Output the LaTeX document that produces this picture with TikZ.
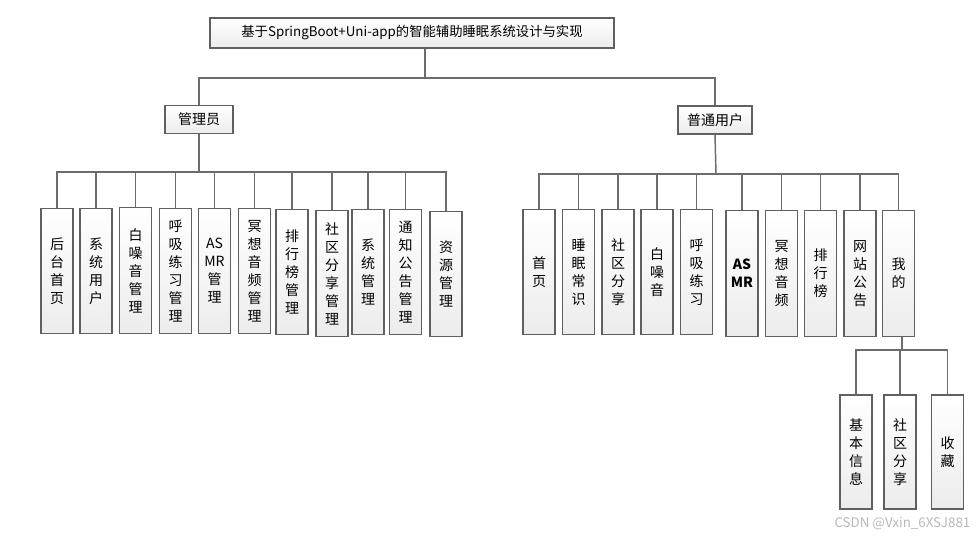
\documentclass[tikz,border=0pt]{standalone}
\usepackage{fontspec}
\setmainfont{Noto Sans CJK SC}
\begin{document}
\begin{tikzpicture}[x=0.75pt,y=-0.75pt,
  conn/.style={draw=gray!85!black,line width=1.1pt},
  leaf/.style={draw=gray!75!black,line width=0.8pt,top color=white,bottom color=gray!15,
    minimum width=24pt,minimum height=94pt,inner sep=0pt,align=center,
    font=\fontsize{10.5}{13.5}\selectfont},
  mid/.style={draw=gray!75!black,line width=0.8pt,top color=white,bottom color=gray!15,
    inner sep=0pt,font=\fontsize{10.5}{13}\selectfont}]
\useasboundingbox (0,0) rectangle (977,540);
\fill[white] (0,0) rectangle (977,540);
% top
\node[mid,minimum width=303pt,minimum height=22.5pt,font=\fontsize{10}{12}\selectfont] (root) at (412,33) {基于SpringBoot+Uni-app的智能辅助睡眠系统设计与实现};
\node[mid,minimum width=51pt,minimum height=20.5pt] (mgr) at (199,119.5) {管理员};
\node[mid,minimum width=55.5pt,minimum height=21pt] (usr) at (715,120) {普通用户};
\coordinate (rb) at (425,78);
\draw[conn] (root.south -| rb) -- (rb);
\draw[conn] (mgr.north) -- (mgr.north |- rb) -- (usr.north |- rb) -- (usr.north);
% left leaves
\node[leaf] (l1) at (57,271) {后\\台\\首\\页};
\node[leaf] (l2) at (96,271) {系\\统\\用\\户};
\node[leaf] (l3) at (135.5,270.5) {白\\噪\\音\\管\\理};
\node[leaf] (l4) at (175.5,271) {呼\\吸\\练\\习\\管\\理};
\node[leaf] (l5) at (214.5,271) {AS\\MR\\管\\理};
\node[leaf] (l6) at (254.5,271) {冥\\想\\音\\频\\管\\理};
\node[leaf] (l7) at (292,272) {排\\行\\榜\\管\\理};
\node[leaf] (l8) at (332,273.5) {社\\区\\分\\享\\管\\理};
\node[leaf] (l9) at (368,272) {系\\统\\管\\理};
\node[leaf] (l10) at (405.5,272) {通\\知\\公\\告\\管\\理};
\node[leaf] (l11) at (446,274) {资\\源\\管\\理};
\coordinate (lb) at (199,172);
\draw[conn] (mgr.south) -- (lb);
\foreach \n in {l1,l2,l3,l4,l5,l6,l7,l8,l9,l10,l11}
  \draw[conn] (\n.north) -- (\n.north |- lb) -- (lb);
% right leaves
\node[leaf] (r1) at (539,272) {首\\页};
\node[leaf] (r2) at (578.5,272) {睡\\眠\\常\\识};
\node[leaf] (r3) at (618,272) {社\\区\\分\\享};
\node[leaf] (r4) at (657,272) {白\\噪\\音};
\node[leaf] (r5) at (696.5,272) {呼\\吸\\练\\习};
\node[leaf,font=\fontsize{10.5}{13.5}\selectfont\bfseries] (r6) at (742,273.5) {AS\\MR};
\node[leaf] (r7) at (781.5,273.5) {冥\\想\\音\\频};
\node[leaf] (r8) at (820.5,273.5) {排\\行\\榜};
\node[leaf] (r9) at (860,273.5) {网\\站\\公\\告};
\node[leaf] (r10) at (898.5,273.5) {我\\的};
\coordinate (rbus) at (716,174);
\draw[conn] (usr.south) -- (rbus);
\foreach \n in {r1,r2,r3,r4,r5,r6,r7,r8,r9,r10}
  \draw[conn] (\n.north) -- (\n.north |- rbus) -- (rbus);
% sub leaves
\node[leaf,minimum height=85.5pt] (s1) at (856,452) {基\\本\\信\\息};
\node[leaf,minimum height=85.5pt] (s2) at (900,452) {社\\区\\分\\享};
\node[leaf,minimum height=85.5pt] (s3) at (947.5,452) {收\\藏};
\coordinate (sb) at (902,350);
\draw[conn] (r10.south -| sb) -- (sb);
\foreach \n in {s1,s2,s3}
  \draw[conn] (\n.north) -- (\n.north |- sb) -- (sb);
\node[text=gray!55,font=\fontsize{10}{12}\selectfont,anchor=east] (wm) at (975,523) {CSDN @Vxin\_6XSJ881};
\end{tikzpicture}
\end{document}
